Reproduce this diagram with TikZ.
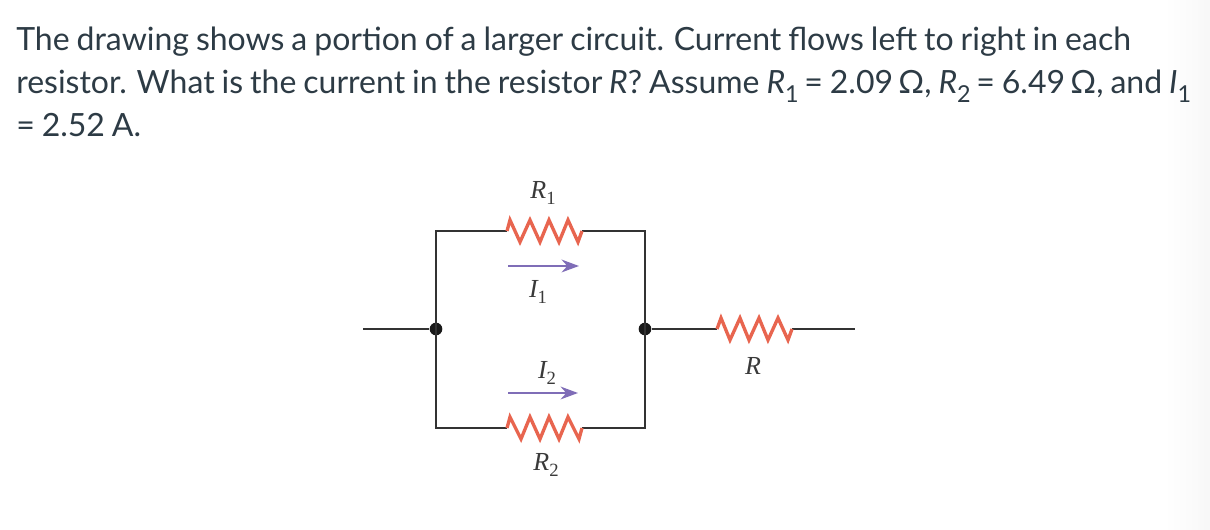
\documentclass[tikz,border=0pt]{standalone}
\usepackage{fontspec}
\setmainfont{Lato}[WordSpace=0.85]
\newfontfamily\figserif{Liberation Serif}
\usetikzlibrary{arrows.meta}
\definecolor{txt}{HTML}{2D3B45}
\definecolor{wirec}{HTML}{333333}
\definecolor{resc}{HTML}{E8654F}
\definecolor{arrc}{HTML}{7F6DB7}
\definecolor{figtxt}{HTML}{3A3A3A}
\newcommand{\sbs}[1]{\raisebox{-0.28em}{\fontsize{17.5pt}{20pt}\selectfont #1}}
\newcommand{\fsub}[1]{\raisebox{-0.25em}{\fontsize{14pt}{16pt}\selectfont\upshape #1}}
\tikzset{
  x=0.75pt,y=-0.75pt,
  textline/.style={anchor=base west,inner sep=0pt,text=txt,font=\fontsize{24pt}{28pt}\selectfont},
  wire/.style={draw=wirec,line width=2.1pt,line join=miter},
  zigzag/.style={draw=resc,line width=2.5pt,line join=miter,miter limit=10},
  current/.style={draw=arrc,line width=2pt,-{Stealth[length=13pt,width=9.5pt]}},
  dot/.style={circle,fill=black!90,inner sep=0pt,minimum size=9.5pt},
  figlabel/.style={inner sep=0pt,text=figtxt,font=\figserif\itshape\fontsize{19.5pt}{22pt}\selectfont}
}
\begin{document}
\begin{tikzpicture}
\useasboundingbox (0,0) rectangle (1210,530);
\fill[white] (0,0) rectangle (1210,530);
\shade[left color=white,right color=black!3] (1165,0) rectangle (1210,530);

\node[textline] (line1) at (16,51) {The drawing shows a portion of a larger circuit. Current flows left to right in each};
\node[textline] (line2) at (16,94) {resistor. What is the current in the resistor \textit{R}? Assume \textit{R}\sbs{1}\kern-1pt{} = 2.09\,Ω, \textit{R}\sbs{2}\kern-1pt{} = 6.49\,Ω, and \textit{I}\sbs{1}};
\node[textline] (line3) at (16,137) {= 2.52 A.};

\node[dot] (ja) at (436,329) {};
\node[dot] (jb) at (645,329) {};
\coordinate (inl) at (363,329);
\coordinate (outr) at (855,329);
\coordinate (tl) at (436,231);
\coordinate (tr) at (645,231);
\coordinate (bl) at (436,428);
\coordinate (br) at (645,428);
\coordinate (r1a) at (507,231);
\coordinate (r1b) at (582,231);
\coordinate (r2a) at (507,428);
\coordinate (r2b) at (582,428);
\coordinate (ra) at (717,329);
\coordinate (rb) at (792,329);

\draw[wire] (inl) -- (ja);
\draw[wire] (r1a) -- (tl) -- (bl) -- (r2a);
\draw[wire] (r1b) -- (tr) -- (br) -- (r2b);
\draw[wire] (jb) -- (ra);
\draw[wire] (rb) -- (outr);

\draw[zigzag] (r1a) -- (510,220) -- (520,242) -- (530,220) -- (540,242) -- (549,220) -- (559,242) -- (568,220) -- (578,242) -- (r1b);
\draw[zigzag] (r2a) -- (510,417) -- (521,439) -- (530,417) -- (540,439) -- (549,417) -- (559,439) -- (568,417) -- (579,439) -- (r2b);
\draw[zigzag] (ra) -- (721,318) -- (730,340) -- (740,318) -- (749,340) -- (759,318) -- (768,340) -- (778,318) -- (788,340) -- (rb);

\coordinate (a1s) at (508,266);
\coordinate (a1e) at (579,266);
\coordinate (a2s) at (508,393);
\coordinate (a2e) at (578,393);
\draw[current] (a1s) -- (a1e);
\draw[current] (a2s) -- (a2e);

\node[figlabel] (lr1) at (543,193) {R\fsub{1}};
\node[figlabel] (li1) at (538,292) {I\fsub{1}};
\node[figlabel] (li2) at (547,373) {I\fsub{2}};
\node[figlabel] (lr2) at (546,465) {R\fsub{2}};
\node[figlabel] (lr) at (753,366) {R};
\end{tikzpicture}
\end{document}
